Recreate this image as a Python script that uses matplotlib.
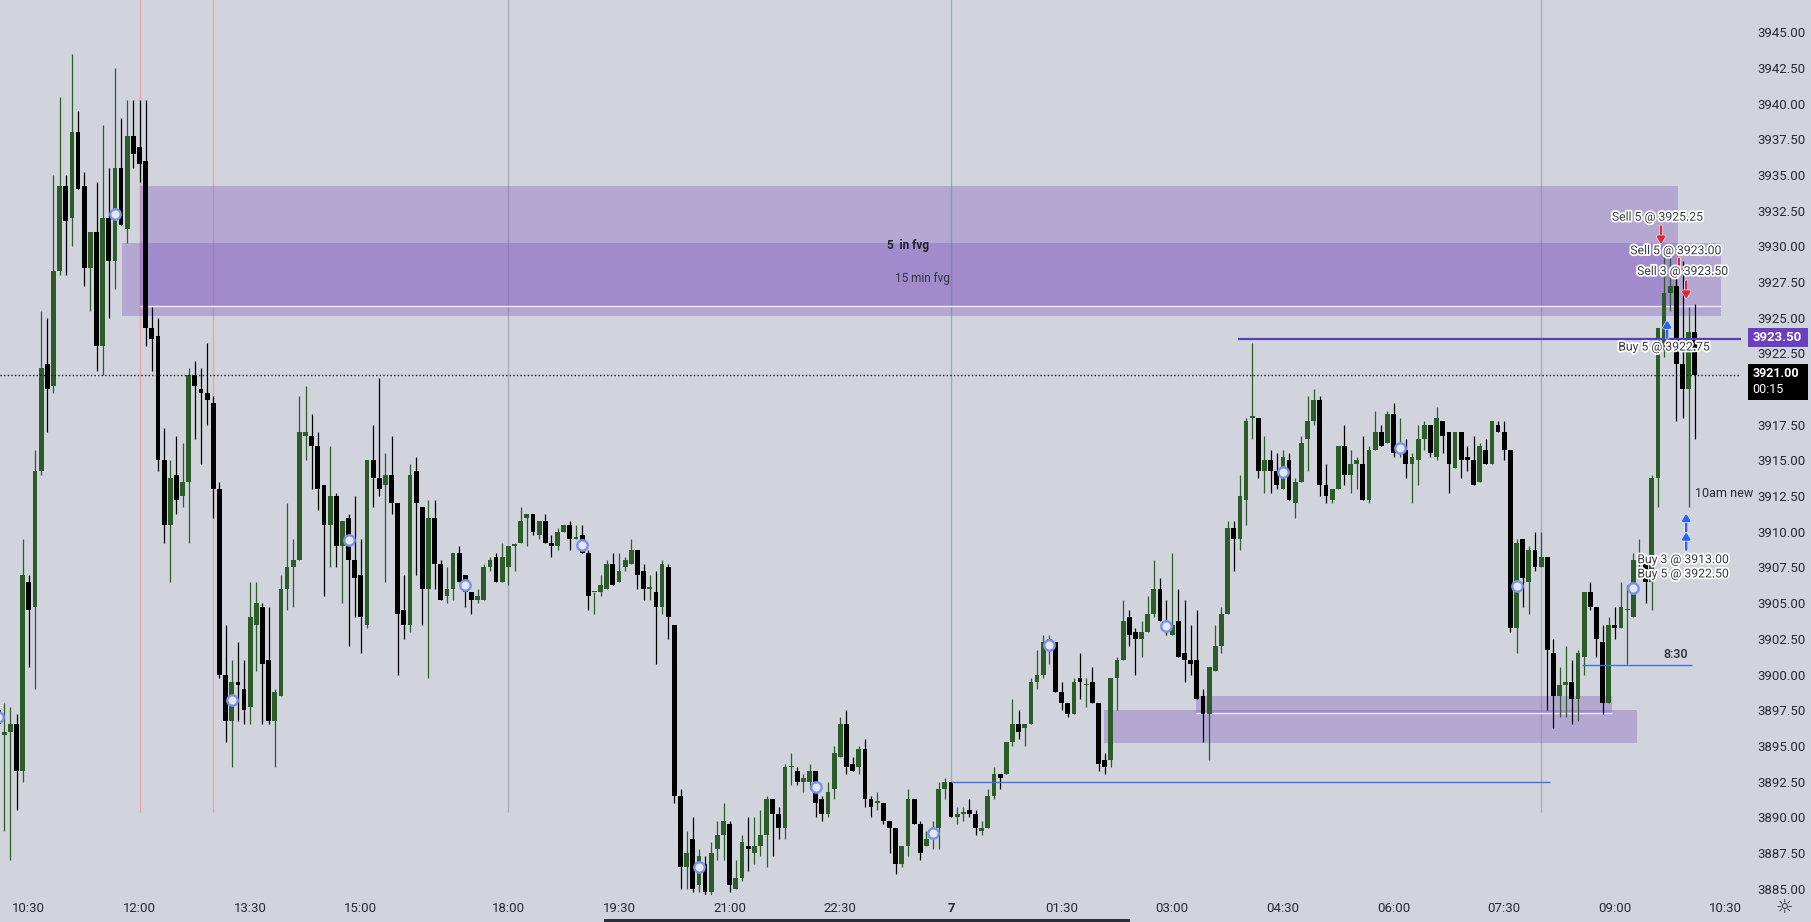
import matplotlib
matplotlib.use("Agg")
import matplotlib.pyplot as plt
import matplotlib.patheffects as pe
from matplotlib.patches import Rectangle
import numpy as np

plt.rcParams['font.family'] = ['Roboto', 'DejaVu Sans']

# 5 minute bars, index 0 = 10:30, session break 17:00-18:00 skipped
first_bar = -5
opens = [
    3897.5, 3895.75, 3896.0, 3896.5, 3893.25, 3906.5, 3904.75, 3914.25, 3921.75, 3920.25,
    3928.25, 3934.25, 3932.0, 3938.0, 3934.25, 3928.5, 3931.0, 3923.0, 3932.0, 3929.0,
    3935.5, 3931.25, 3937.75, 3937.0, 3936.0, 3924.25, 3923.75, 3915.0, 3910.5, 3914.0,
    3912.5, 3913.5, 3921.0, 3920.0, 3919.75, 3919.0, 3913.0, 3900.0, 3896.75, 3899.5,
    3899.0, 3897.75, 3903.5, 3904.75, 3901.0, 3896.75, 3898.5, 3906.0, 3907.5, 3908.0,
    3916.75, 3916.75, 3916.0, 3913.25, 3910.5, 3912.5, 3909.0, 3911.0, 3908.0, 3907.0,
    3903.5, 3915.0, 3913.75, 3913.25, 3914.0, 3912.0, 3904.5, 3903.5, 3914.25, 3911.75,
    3906.0, 3911.0, 3907.75, 3905.5, 3906.0, 3908.5, 3907.0, 3905.75, 3905.25, 3905.25,
    3907.5, 3908.25, 3906.5, 3907.5, 3909.0, 3909.25, 3911.0, 3911.25, 3909.75, 3910.75,
    3909.25, 3909.0, 3910.0, 3910.5, 3909.5, 3909.75, 3908.5, 3905.75, 3905.75, 3906.0,
    3907.75, 3906.5, 3907.5, 3907.75, 3908.75, 3907.25, 3906.0, 3905.75, 3904.75, 3907.5,
    3903.5, 3891.5, 3886.5, 3888.5, 3885.25, 3886.75, 3884.75, 3887.75, 3888.75, 3889.5,
    3885.0, 3885.75, 3888.0, 3887.5, 3888.0, 3888.75, 3891.25, 3890.25, 3889.25, 3893.5,
    3893.25, 3892.5, 3892.5, 3893.25, 3891.25, 3890.25, 3892.0, 3894.25, 3896.5, 3893.75,
    3893.5, 3894.75, 3891.25, 3891.0, 3891.0, 3889.75, 3889.25, 3886.75, 3888.0, 3891.25,
    3889.5, 3888.0, 3889.0, 3889.25, 3892.0, 3892.5, 3890.0, 3890.25, 3890.5, 3890.25,
    3889.0, 3889.25, 3891.5, 3893.0, 3893.0, 3895.25, 3896.5, 3896.25, 3896.5, 3899.5,
    3900.0, 3902.25, 3902.25, 3898.75, 3898.0, 3897.25, 3899.75, 3899.25, 3899.5, 3898.0,
    3894.0, 3894.0, 3899.75, 3901.0, 3904.0, 3903.0, 3902.5, 3903.0, 3904.25, 3906.0,
    3903.75, 3902.75, 3903.75, 3901.5, 3901.0, 3901.0, 3898.5, 3897.25, 3900.25, 3902.0,
    3904.25, 3910.25, 3909.5, 3912.25, 3918.0, 3918.0, 3914.25, 3915.0, 3914.25, 3913.0,
    3915.0, 3912.0, 3913.5, 3916.5, 3917.75, 3919.25, 3913.25, 3912.25, 3913.0, 3916.0,
    3914.0, 3914.75, 3914.75, 3912.25, 3915.75, 3917.0, 3916.25, 3918.25, 3915.5, 3915.75,
    3914.75, 3915.0, 3916.5, 3917.5, 3915.25, 3917.75, 3917.0, 3914.5, 3917.0, 3915.25,
    3915.0, 3913.5, 3915.75, 3914.75, 3917.5, 3917.0, 3915.75, 3903.25, 3909.5, 3906.5,
    3908.75, 3907.5, 3908.25, 3901.5, 3898.5, 3899.25, 3899.5, 3898.25, 3901.25, 3905.75,
    3904.75, 3902.25, 3898.0, 3903.5, 3903.25, 3904.5, 3904.0, 3908.0, 3908.0, 3906.5,
    3913.75, 3922.75, 3926.75, 3927.25, 3921.75, 3920.0, 3924.0,
]
highs = [
    3899.5, 3898.0, 3897.75, 3897.25, 3909.5, 3907.0, 3915.75, 3925.5, 3925.0, 3935.0,
    3940.5, 3935.0, 3943.5, 3939.5, 3935.25, 3931.0, 3934.5, 3938.5, 3935.5, 3942.5,
    3939.0, 3940.25, 3940.25, 3940.25, 3940.25, 3925.75, 3925.0, 3917.25, 3915.0, 3916.75,
    3916.25, 3921.5, 3922.0, 3921.5, 3923.25, 3919.5, 3913.5, 3903.5, 3901.0, 3902.25,
    3901.0, 3906.5, 3906.5, 3905.0, 3904.75, 3899.0, 3907.0, 3912.0, 3909.5, 3919.5,
    3920.25, 3918.25, 3917.0, 3913.25, 3916.0, 3912.75, 3910.75, 3911.25, 3912.5, 3909.5,
    3915.0, 3917.5, 3920.75, 3915.5, 3916.75, 3912.0, 3907.0, 3914.75, 3915.25, 3911.75,
    3912.25, 3912.25, 3908.0, 3907.5, 3908.5, 3909.0, 3907.0, 3905.75, 3906.0, 3907.75,
    3908.25, 3908.5, 3909.25, 3909.0, 3909.25, 3911.75, 3911.25, 3911.25, 3910.75, 3911.25,
    3909.75, 3910.25, 3910.5, 3910.75, 3910.5, 3910.5, 3908.75, 3905.75, 3907.0, 3908.0,
    3908.5, 3908.5, 3908.25, 3909.5, 3908.75, 3907.75, 3907.0, 3907.25, 3908.0, 3907.75,
    3903.5, 3892.0, 3889.0, 3890.0, 3887.75, 3887.25, 3888.25, 3889.75, 3891.0, 3889.75,
    3887.0, 3888.75, 3890.0, 3890.0, 3890.5, 3891.5, 3891.25, 3890.75, 3893.75, 3894.5,
    3893.5, 3893.0, 3893.75, 3893.25, 3891.5, 3892.5, 3895.0, 3897.0, 3897.5, 3894.25,
    3895.0, 3895.5, 3891.5, 3891.75, 3891.0, 3889.75, 3889.25, 3888.0, 3892.0, 3891.25,
    3889.75, 3889.0, 3889.75, 3892.5, 3892.75, 3892.5, 3890.75, 3890.75, 3891.25, 3890.5,
    3889.75, 3892.0, 3893.5, 3893.0, 3895.25, 3898.25, 3897.5, 3896.5, 3899.75, 3901.75,
    3902.75, 3902.75, 3902.25, 3899.5, 3898.0, 3899.75, 3901.5, 3899.75, 3900.5, 3898.0,
    3894.5, 3899.75, 3901.25, 3905.25, 3904.5, 3903.25, 3903.75, 3905.5, 3908.0, 3906.75,
    3905.25, 3908.5, 3906.0, 3905.25, 3903.5, 3904.5, 3899.0, 3900.5, 3903.5, 3904.75,
    3910.75, 3910.75, 3914.0, 3918.0, 3923.25, 3918.0, 3916.75, 3915.75, 3915.5, 3915.75,
    3915.5, 3913.75, 3916.75, 3919.5, 3920.0, 3919.5, 3914.75, 3913.0, 3916.0, 3917.5,
    3915.75, 3915.25, 3916.75, 3916.0, 3918.5, 3917.5, 3918.5, 3919.0, 3918.0, 3916.5,
    3915.5, 3917.5, 3917.75, 3917.5, 3918.75, 3917.75, 3917.0, 3917.0, 3917.0, 3916.0,
    3916.75, 3916.25, 3916.5, 3917.75, 3917.75, 3917.75, 3915.75, 3909.5, 3909.5, 3909.0,
    3910.0, 3910.0, 3908.25, 3902.5, 3900.5, 3902.0, 3901.0, 3901.75, 3905.75, 3906.5,
    3904.75, 3903.5, 3904.0, 3904.75, 3906.5, 3906.25, 3908.5, 3909.5, 3908.0, 3914.0,
    3924.25, 3930.0, 3929.5, 3928.0, 3929.0, 3925.75, 3926.0,
]
lows = [
    3893.0, 3889.0, 3887.0, 3890.5, 3892.5, 3900.5, 3899.0, 3914.0, 3917.0, 3919.75,
    3928.0, 3928.0, 3930.0, 3934.0, 3927.25, 3925.5, 3921.25, 3921.0, 3925.0, 3927.0,
    3931.5, 3930.25, 3935.5, 3934.5, 3923.0, 3921.25, 3914.25, 3909.25, 3906.5, 3911.25,
    3911.75, 3909.25, 3916.5, 3914.75, 3917.5, 3911.0, 3899.75, 3895.25, 3893.5, 3896.75,
    3896.5, 3896.5, 3900.25, 3896.5, 3896.5, 3893.5, 3898.5, 3904.5, 3904.75, 3908.0,
    3915.0, 3913.0, 3911.5, 3905.5, 3907.5, 3907.5, 3905.0, 3902.0, 3904.0, 3901.5,
    3903.25, 3911.75, 3912.5, 3906.5, 3911.25, 3900.0, 3902.5, 3903.0, 3907.0, 3903.5,
    3899.75, 3906.0, 3905.25, 3905.0, 3905.25, 3906.5, 3904.75, 3904.25, 3905.0, 3905.25,
    3907.25, 3906.5, 3906.5, 3906.25, 3907.25, 3909.25, 3909.0, 3909.75, 3909.5, 3909.25,
    3908.25, 3908.75, 3910.0, 3908.75, 3909.5, 3908.5, 3904.5, 3904.25, 3905.5, 3906.0,
    3906.25, 3906.5, 3907.25, 3907.75, 3906.0, 3905.25, 3905.25, 3900.75, 3904.25, 3902.5,
    3891.0, 3885.0, 3885.0, 3884.75, 3884.75, 3884.5, 3884.5, 3887.0, 3887.0, 3884.75,
    3885.0, 3885.5, 3886.25, 3886.75, 3887.25, 3886.5, 3887.25, 3888.5, 3888.5, 3892.25,
    3892.25, 3891.75, 3892.0, 3890.0, 3889.75, 3890.0, 3891.25, 3894.25, 3893.0, 3893.25,
    3893.0, 3890.75, 3890.0, 3890.5, 3889.5, 3887.5, 3886.0, 3886.5, 3887.25, 3889.5,
    3887.0, 3888.0, 3887.75, 3887.75, 3891.25, 3890.0, 3889.5, 3889.75, 3890.0, 3888.75,
    3888.75, 3889.25, 3891.25, 3892.0, 3893.0, 3895.0, 3895.5, 3895.0, 3896.5, 3899.0,
    3899.75, 3900.75, 3898.75, 3897.5, 3897.0, 3897.25, 3898.25, 3897.75, 3898.0, 3893.25,
    3893.0, 3893.5, 3897.5, 3901.0, 3902.0, 3900.0, 3901.25, 3903.0, 3904.0, 3903.75,
    3902.75, 3902.75, 3901.25, 3899.5, 3900.0, 3898.25, 3895.25, 3894.0, 3900.25, 3901.5,
    3904.25, 3907.25, 3908.75, 3910.5, 3916.5, 3913.75, 3912.75, 3912.75, 3913.0, 3913.0,
    3912.25, 3911.0, 3913.5, 3914.25, 3917.5, 3912.5, 3912.0, 3912.0, 3913.0, 3913.25,
    3912.75, 3913.0, 3912.25, 3912.0, 3915.75, 3916.0, 3916.25, 3915.25, 3915.25, 3913.75,
    3912.0, 3913.25, 3915.75, 3915.25, 3915.0, 3915.5, 3912.75, 3914.5, 3913.75, 3914.25,
    3913.25, 3913.5, 3914.75, 3914.75, 3917.0, 3915.0, 3903.0, 3901.5, 3904.75, 3904.25,
    3907.25, 3907.5, 3897.5, 3896.25, 3897.0, 3897.0, 3896.5, 3896.75, 3900.0, 3904.5,
    3901.25, 3897.25, 3898.0, 3902.5, 3903.25, 3900.75, 3904.0, 3907.5, 3905.0, 3904.5,
    3911.75, 3922.25, 3925.5, 3917.75, 3918.0, 3911.75, 3916.5,
]
closes = [
    3896.5, 3896.0, 3896.5, 3893.25, 3907.0, 3904.5, 3914.25, 3921.5, 3920.0, 3928.25,
    3934.25, 3931.75, 3938.0, 3934.0, 3928.5, 3931.0, 3923.0, 3932.0, 3929.0, 3935.5,
    3931.5, 3937.75, 3936.5, 3935.75, 3924.25, 3923.5, 3915.0, 3910.5, 3913.75, 3912.25,
    3913.5, 3921.0, 3920.25, 3919.75, 3919.25, 3913.0, 3900.0, 3896.75, 3899.5, 3899.25,
    3897.5, 3904.0, 3905.0, 3900.75, 3896.75, 3898.75, 3906.0, 3907.5, 3908.0, 3917.0,
    3917.0, 3916.0, 3913.0, 3910.5, 3912.5, 3909.0, 3910.75, 3908.0, 3906.75, 3904.0,
    3915.0, 3913.75, 3913.0, 3914.0, 3912.0, 3904.25, 3903.5, 3914.0, 3912.0, 3906.0,
    3911.0, 3907.75, 3905.25, 3906.0, 3908.5, 3906.5, 3905.75, 3905.25, 3905.5, 3907.5,
    3908.0, 3906.5, 3908.25, 3909.0, 3909.0, 3910.75, 3911.25, 3910.0, 3910.75, 3909.25,
    3909.0, 3910.0, 3910.5, 3909.5, 3909.5, 3908.5, 3905.5, 3905.75, 3906.25, 3907.75,
    3906.25, 3907.25, 3908.0, 3908.75, 3907.0, 3906.0, 3906.0, 3904.75, 3907.75, 3904.0,
    3891.5, 3886.5, 3887.5, 3885.0, 3887.25, 3884.75, 3887.5, 3888.75, 3889.75, 3885.25,
    3885.75, 3888.25, 3887.75, 3888.0, 3888.75, 3891.25, 3890.25, 3889.25, 3893.5, 3893.5,
    3892.5, 3892.75, 3893.25, 3891.0, 3890.25, 3891.75, 3894.5, 3896.5, 3893.5, 3893.25,
    3894.75, 3891.25, 3890.75, 3891.0, 3889.75, 3889.25, 3886.75, 3888.0, 3891.25, 3889.5,
    3887.5, 3888.5, 3889.25, 3892.0, 3892.5, 3890.0, 3890.25, 3890.25, 3890.25, 3889.25,
    3889.25, 3891.5, 3893.0, 3892.75, 3895.25, 3896.5, 3896.0, 3896.5, 3899.5, 3900.0,
    3902.25, 3902.5, 3898.75, 3898.0, 3897.25, 3899.5, 3899.5, 3899.25, 3898.0, 3893.75,
    3893.5, 3899.75, 3901.0, 3903.75, 3902.75, 3902.5, 3903.0, 3904.25, 3906.0, 3903.75,
    3903.5, 3903.5, 3901.25, 3901.0, 3900.75, 3898.25, 3897.25, 3900.5, 3902.0, 3904.25,
    3910.25, 3909.5, 3912.5, 3917.75, 3918.0, 3914.25, 3915.0, 3914.25, 3913.25, 3915.25,
    3912.25, 3913.5, 3916.25, 3917.75, 3919.25, 3913.25, 3912.5, 3913.0, 3916.0, 3914.0,
    3914.75, 3915.0, 3912.25, 3915.75, 3917.0, 3916.0, 3918.25, 3915.5, 3915.75, 3914.75,
    3915.25, 3916.5, 3917.5, 3915.5, 3918.0, 3916.75, 3914.75, 3917.0, 3915.0, 3915.0,
    3913.25, 3916.0, 3914.75, 3917.75, 3917.0, 3915.75, 3903.25, 3909.25, 3906.75, 3908.75,
    3907.5, 3908.25, 3901.75, 3898.5, 3899.25, 3899.5, 3898.25, 3901.5, 3905.75, 3904.75,
    3902.5, 3898.0, 3903.5, 3903.25, 3904.75, 3904.5, 3908.0, 3908.0, 3906.5, 3913.75,
    3924.25, 3926.75, 3927.25, 3921.75, 3920.0, 3924.0, 3921.0,
]

tick_bars = [0, 18, 36, 54, 78, 96, 114, 132, 150, 168, 186, 204, 222, 240, 258, 276]
tick_labels = ['10:30', '12:00', '13:30', '15:00', '18:00', '19:30', '21:00', '22:30',
               '7', '01:30', '03:00', '04:30', '06:00', '07:30', '09:00', '10:30']
# 3920.00 sits under the last-price label, so it is left out
price_ticks = [3885.0 + 2.5 * k for k in range(25) if k != 14]

# session / time markers (bar index)
vline_bars = [18, 30, 78, 150, 246]
vline_colors = ['#e9a3ad', '#e9a3ad', '#a9aeb9', '#8fb4b8', '#a9aeb9']

# blue circles (every 19 bars)
circle_bars = [-5, 14, 33, 52, 71, 90, 109, 128, 147, 166, 185, 204, 223, 242, 261]
circle_prices = [3897.0, 3932.3, 3898.2, 3909.4, 3906.3, 3909.1, 3886.5, 3892.1,
                 3888.9, 3902.1, 3903.4, 3914.2, 3915.85, 3906.2, 3906.05]

# zones: (bar start, bar end, price low, price high)
zone_5fvg = (18.0, 268.3, 3925.8, 3934.25)
zone_15fvg = (15.2, 275.3, 3925.1, 3930.25)
zone_low_a = (189.9, 257.5, 3897.3, 3898.5)
zone_low_b = (174.9, 261.6, 3895.2, 3897.5)

last_price = 3921.0
level_price = 3923.5
open_line_price = 3892.5
line_830_price = 3900.65

trade_texts = ['Sell 5 @ 3925.25', 'Sell 5 @ 3923.00', 'Sell 3 @ 3923.50',
               'Buy 5 @ 3922.75', 'Buy 3 @ 3913.00', 'Buy 5 @ 3922.50']
trade_bars = [264.9, 267.9, 269.0, 266.0, 269.1, 269.1]
trade_prices = [3932.05, 3929.7, 3928.25, 3922.95, 3908.05, 3907.05]

sell_arrow_bars = [265.5, 268.4, 269.6]
sell_arrow_tops = [3931.4, 3929.15, 3927.55]
buy_arrow_bars = [266.5, 269.6, 269.6]
buy_arrow_bottoms = [3923.6, 3910.05, 3908.75]

BG = '#d1d4dc'
GREEN = '#2c5d29'
TXT = '#262a35'

fig = plt.figure(figsize=(18.11, 9.22), dpi=100, facecolor=BG)
ax = fig.add_axes([0, 0.0293, 0.9613, 0.9707])
ax.set_facecolor(BG)
for s in ax.spines.values():
    s.set_visible(False)

x = np.arange(first_bar, first_bar + len(opens))
o = np.array(opens)
h = np.array(highs)
l = np.array(lows)
c = np.array(closes)
up = c >= o
cols = np.where(up, GREEN, '#000000')

# vertical markers
for b, vc in zip(vline_bars, vline_colors):
    ax.vlines(b, 3890.35, 3950, color=vc, lw=1, zorder=0.5)

# zones
for z in [zone_5fvg, zone_15fvg, zone_low_a, zone_low_b]:
    ax.add_patch(Rectangle((z[0], z[2]), z[1] - z[0], z[3] - z[2],
                           fc=(126 / 255, 87 / 255, 194 / 255, 0.35), ec='none', zorder=1))
ax.hlines(zone_5fvg[2], zone_5fvg[0], zone_15fvg[1], color='#eeeaf8', lw=1, zorder=1.2)
ax.hlines(zone_low_a[2], zone_low_a[0], zone_low_a[1], color='#eeeaf8', lw=1, zorder=1.2)

# candles
ax.vlines(x, l, h, color=cols, lw=0.9, zorder=2)
body = np.maximum(np.abs(c - o), 0.12)
ax.bar(x, body, bottom=np.minimum(o, c), width=0.78, color=cols, linewidth=0, zorder=2.1)

# lines
ax.axhline(last_price, color='#131722', lw=1, ls=(0, (1, 1.6)), zorder=3)
ax.hlines(level_price, 196.7, 278.5, color='#5a3cc0', lw=1.6, zorder=3)
ax.hlines(open_line_price, 150, 247.5, color='#4070e0', lw=1, zorder=3)
ax.hlines(line_830_price, 252.7, 270.5, color='#4070e0', lw=1, zorder=3)

ax.plot(circle_bars, circle_prices, 'o', ms=7.5, mfc='#e4e7f2', mec='#7a92e8', mew=1.7,
        ls='none', zorder=4)

# zone labels
ax.text(143, 3930.1, '5  in fvg', ha='center', va='center', fontsize=8.5,
        fontweight='bold', color='#1e222d', zorder=5)
ax.text(145.3, 3927.75, '15 min fvg', ha='center', va='center', fontsize=8.5,
        color='#2f3340', zorder=5)
ax.text(267.9, 3901.4, '8:30', ha='center', va='center', fontsize=9,
        fontweight='medium', color=TXT, zorder=5)
ax.text(271.0, 3912.7, '10am new', ha='left', va='center', fontsize=9, color=TXT, zorder=5)

halo = [pe.withStroke(linewidth=2.6, foreground='white')]
arrow_style = '-|>,head_width=0.22,head_length=0.38'
for b, tp in zip(sell_arrow_bars, sell_arrow_tops):
    an = ax.annotate('', xy=(b, tp - 1.25), xytext=(b, tp),
                     arrowprops=dict(arrowstyle=arrow_style, color='#e0283c', lw=1.8,
                                     shrinkA=0, shrinkB=0), zorder=6)
    an.arrow_patch.set_path_effects(halo)
for b, bt in zip(buy_arrow_bars, buy_arrow_bottoms):
    an = ax.annotate('', xy=(b, bt + 1.25), xytext=(b, bt),
                     arrowprops=dict(arrowstyle=arrow_style, color='#2962ff', lw=1.8,
                                     shrinkA=0, shrinkB=0), zorder=6)
    an.arrow_patch.set_path_effects(halo)
for t, b, p in zip(trade_texts, trade_bars, trade_prices):
    ax.text(b, p, t, ha='center', va='center', fontsize=8.8, color='#3c3f47',
            path_effects=halo, zorder=7)

ax.set_xlim(-4.70, 278.5)
ax.set_ylim(3884.55, 3947.27)

ax.yaxis.tick_right()
ax.set_yticks(price_ticks, ['%.2f' % p for p in price_ticks])
ax.tick_params(axis='y', length=0, pad=11.5, labelsize=9.5, labelcolor=TXT)
ax.set_xticks(tick_bars, tick_labels)
ax.tick_params(axis='x', length=0, pad=5, labelsize=9.5, labelcolor=TXT)
ax.get_xticklabels()[8].set_fontweight('bold')

# price labels on the axis
ytr = ax.get_yaxis_transform()
ax.add_patch(Rectangle((1.004, 3922.95), 0.0345, 1.3, transform=ytr, fc='#6a3fc2',
                       ec='none', clip_on=False, zorder=8))
ax.text(1.0065, 3923.6, '3923.50', transform=ytr, ha='left', va='center', fontsize=9.5,
        fontweight='bold', color='white', clip_on=False, zorder=9)
ax.add_patch(Rectangle((1.004, 3919.25), 0.0345, 2.5, transform=ytr, fc='#000000',
                       ec='none', clip_on=False, zorder=8))
ax.text(1.0065, 3921.1, '3921.00', transform=ytr, ha='left', va='center', fontsize=9,
        fontweight='bold', color='white', clip_on=False, zorder=9)
ax.text(1.0065, 3919.95, '00:15', transform=ytr, ha='left', va='center', fontsize=9,
        color='white', clip_on=False, zorder=9)

fig.text(1784 / 1811, 1 - 907 / 922, '\u263c', ha='center', va='center', fontsize=14,
         color=TXT, family='DejaVu Sans')
fig.add_artist(Rectangle((604 / 1811, 0), 526 / 1811, 3 / 922, transform=fig.transFigure,
                         fc='#2a2e39', ec='none'))

fig.savefig('out.png', dpi=100, facecolor=BG)
